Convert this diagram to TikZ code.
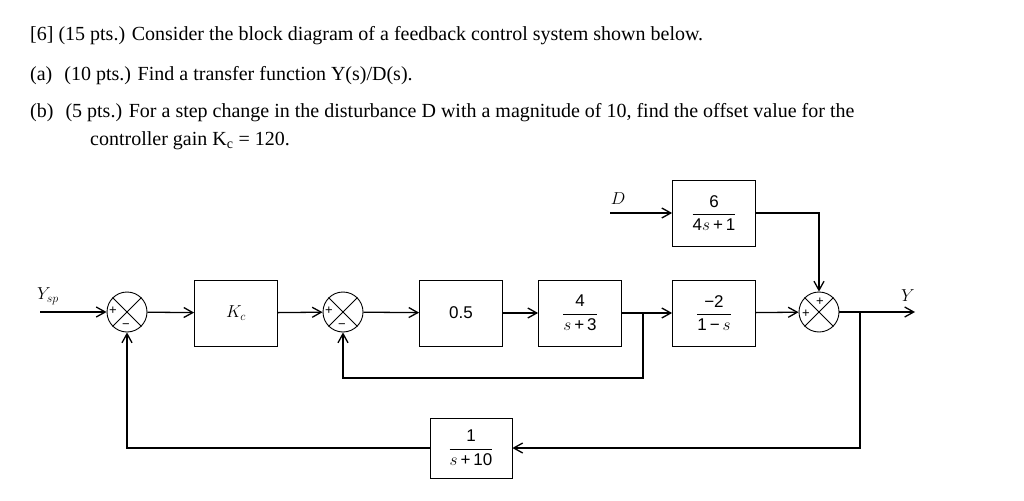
\documentclass[tikz,border=0pt]{standalone}
\usepackage{amsmath}
\usepackage{fontspec}
\setmainfont{Liberation Serif}
\setsansfont{Liberation Sans}
\usetikzlibrary{arrows.meta}
\begin{document}
\begin{tikzpicture}[x=1pt,y=-1pt,
  ar/.style={-{Straight Barb[length=9pt,width=10pt]},line width=1.3pt},
  ln/.style={line width=1.3pt},
  blk/.style={draw,line width=0.8pt,minimum width=83pt,minimum height=66pt,inner sep=0pt,font=\fontsize{17}{20}\selectfont},
  sum/.style={draw,line width=0.9pt,circle,minimum size=40pt,inner sep=0pt},
  sg/.style={font=\sffamily\fontsize{13}{13}\selectfont,inner sep=0pt},
  hd/.style={anchor=west,font=\fontsize{20}{24}\selectfont,inner sep=0pt}]
\useasboundingbox (0,0) rectangle (1024,500);
\node[hd] (t1) at (30,36) {[6] (15 pts.) Consider the block diagram of a feedback control system shown below.};
\node[hd] (t2) at (30,76) {(a)\hspace{12pt}(10 pts.) Find a transfer function Y(s)/D(s).};
\node[hd] (t3) at (30,113) {(b)\hspace{12pt}(5 pts.) For a step change in the disturbance D with a magnitude of 10, find the offset value for the};
\node[hd] (t4) at (90,141) {controller gain K$_\mathrm{c}$ = 120.};

\newcommand{\sumX}[1]{\draw[line width=0.9pt] (#1.45)--(#1.225) (#1.135)--(#1.-45);}
\node[sum] (s1) at (127,312) {}; \sumX{s1}
\node[sum] (s2) at (343,312) {}; \sumX{s2}
\node[sum] (s3) at (819,312) {}; \sumX{s3}
\node[sg] (p1) at (113,311) {+}; \node[sg] (m1) at (126,326) {\textminus};
\node[sg] (p2) at (329,311) {+}; \node[sg] (m2) at (342,326) {\textminus};
\node[sg] (p3) at (820,302) {+}; \node[sg] (p4) at (806,314) {+};

\node[blk] (kc) at (236,313) {$K_c$};
\node[blk] (g1) at (461,313) {\sffamily 0.5};
\node[blk] (g2) at (580,313) {$\dfrac{\textsf{4}}{s\,\textsf{+}\,\textsf{3}}$};
\node[blk] (g3) at (714,313) {$\dfrac{\textsf{\textminus2}}{\textsf{1}\,\textsf{\textminus}\,s}$};
\node[blk] (gd) at (714,213) {$\dfrac{\textsf{6}}{\textsf{4}s\,\textsf{+}\,\textsf{1}}$};
\node[blk,minimum width=82pt,minimum height=60pt] (h) at (471,448) {$\dfrac{\textsf{1}}{s\,\textsf{+}\,\textsf{10}}$};

\coordinate (in) at (40,312);
\coordinate (out) at (915,312);
\coordinate (b1) at (643,312);
\coordinate (b2) at (860,312);
\coordinate (din) at (610,213);
\node[font=\fontsize{17}{20}\selectfont] (ysp) at (48,296) {$Y_{sp}$};
\node[font=\fontsize{17}{20}\selectfont] (yl) at (908,296) {$Y$};
\node[font=\fontsize{17}{20}\selectfont] (dl) at (618,199) {$D$};

\draw[ar] (in) -- (s1);
\draw[ar] (s1) -- (kc);
\draw[ar] (kc) -- (s2);
\draw[ar] (s2) -- (g1);
\draw[ar] (g1) -- (g2);
\draw[ar] (g2) -- (g3);
\draw[ar] (g3) -- (s3);
\draw[ar] (s3) -- (out);
\draw[ar] (b1) -- (643,378) -- (343,378) -- (s2);
\draw[ar] (b2) -- (860,448) -- (h);
\draw[ar] (h) -- (127,448) -- (s1);
\draw[ar] (din) -- (gd);
\draw[ar] (gd) -- (819,213) -- (s3);
\end{tikzpicture}
\end{document}
